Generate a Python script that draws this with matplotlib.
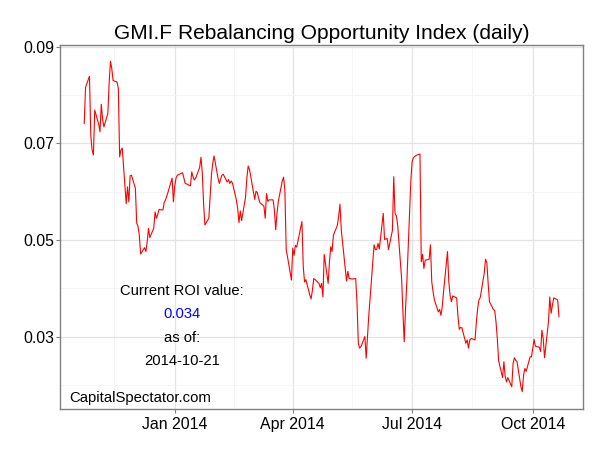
import numpy as np
import pandas as pd
import matplotlib
matplotlib.use("Agg")
import matplotlib.pyplot as plt

plt.rcParams['font.family'] = ['Liberation Sans', 'DejaVu Sans']

# daily index values, business days 2013-10-24 .. 2014-10-21 (one row per week)
startDate = "2013-10-24"
endDate = "2014-10-21"
roi = [
    0.0741, 0.0816,
    0.0839, 0.0716, 0.0686, 0.0676, 0.0769,
    0.0740, 0.0724, 0.0781, 0.0750, 0.0734,
    0.0762, 0.0825, 0.0870, 0.0855, 0.0830,
    0.0827, 0.0814, 0.0672, 0.0686, 0.0690,
    0.0575, 0.0610, 0.0579, 0.0633, 0.0634,
    0.0607, 0.0535, 0.0528, 0.0510, 0.0471,
    0.0484, 0.0476, 0.0496, 0.0524, 0.0505,
    0.0524, 0.0558, 0.0545, 0.0552, 0.0563,
    0.0562, 0.0578, 0.0583, 0.0591, 0.0600,
    0.0628, 0.0579, 0.0612, 0.0628, 0.0634,
    0.0638, 0.0639, 0.0628, 0.0617, 0.0616,
    0.0612, 0.0641, 0.0630, 0.0624, 0.0628,
    0.0650, 0.0671, 0.0640, 0.0576, 0.0531,
    0.0545, 0.0590, 0.0635, 0.0659, 0.0674,
    0.0628, 0.0617, 0.0626, 0.0634, 0.0636,
    0.0620, 0.0625, 0.0617, 0.0622, 0.0618,
    0.0583, 0.0565, 0.0536, 0.0560, 0.0540,
    0.0589, 0.0628, 0.0653, 0.0646, 0.0631,
    0.0584, 0.0601, 0.0598, 0.0586, 0.0577,
    0.0570, 0.0545, 0.0596, 0.0580, 0.0583,
    0.0583, 0.0562, 0.0521, 0.0555, 0.0580,
    0.0622, 0.0630, 0.0603, 0.0480, 0.0465,
    0.0417, 0.0483, 0.0468, 0.0489, 0.0485,
    0.0525, 0.0538, 0.0445, 0.0413, 0.0418,
    0.0386, 0.0378, 0.0396, 0.0420, 0.0418,
    0.0410, 0.0401, 0.0410, 0.0382, 0.0470,
    0.0410, 0.0455, 0.0486, 0.0476, 0.0510,
    0.0530, 0.0549, 0.0574, 0.0521, 0.0495,
    0.0415, 0.0435, 0.0420, 0.0420, 0.0419,
    0.0420, 0.0370, 0.0286, 0.0276, 0.0279,
    0.0300, 0.0255, 0.0300, 0.0345, 0.0380,
    0.0490, 0.0480, 0.0480, 0.0493, 0.0481,
    0.0555, 0.0501, 0.0502, 0.0503, 0.0480,
    0.0520, 0.0631, 0.0555, 0.0550, 0.0531,
    0.0420, 0.0351, 0.0289, 0.0358, 0.0413,
    0.0620, 0.0662, 0.0670, 0.0673, 0.0675,
    0.0678, 0.0455, 0.0470, 0.0441, 0.0458,
    0.0460, 0.0490, 0.0413, 0.0393, 0.0376,
    0.0351, 0.0356, 0.0344, 0.0362, 0.0393,
    0.0476, 0.0413, 0.0385, 0.0372, 0.0384,
    0.0380, 0.0341, 0.0315, 0.0319, 0.0318,
    0.0286, 0.0293, 0.0276, 0.0293, 0.0296,
    0.0293, 0.0330, 0.0358, 0.0376, 0.0381,
    0.0431, 0.0460, 0.0453, 0.0410, 0.0372,
    0.0356, 0.0354, 0.0330, 0.0295, 0.0250,
    0.0215, 0.0248, 0.0217, 0.0206, 0.0215,
    0.0196, 0.0244, 0.0256, 0.0251, 0.0248,
    0.0196, 0.0186, 0.0220, 0.0234, 0.0228,
    0.0258, 0.0258, 0.0275, 0.0294, 0.0280,
    0.0278, 0.0269, 0.0313, 0.0295, 0.0256,
    0.0331, 0.0382, 0.0348, 0.0365, 0.0380,
    0.0376, 0.0341,
]

# quarterly breaks; the outer two only serve to place the minor grid
breakDates = ["2013-10-01", "2014-01-01", "2014-04-01", "2014-07-01", "2014-10-01", "2015-01-01"]
majorLabels = ["Jan 2014", "Apr 2014", "Jul 2014", "Oct 2014"]
yTicks = [0.03, 0.05, 0.07, 0.09]
yMinor = [0.02, 0.04, 0.06, 0.08]
yLimits = (0.0150, 0.0903)

titleText = "GMI.F Rebalancing Opportunity Index (daily)"
currentValue = "0.034"
asOfDate = "2014-10-21"
sourceText = "CapitalSpectator.com"


def main():
    dates = pd.bdate_range(startDate, endDate)
    values = np.array(roi)

    fig = plt.figure(figsize=(5.99, 4.49), dpi=100)
    ax = fig.add_axes([0.1010, 0.0891, 0.8718, 0.8100])

    ax.plot(dates, values, color="#FF0000", linewidth=0.8)

    breaks = pd.to_datetime(breakDates)
    minors = breaks[:-1] + (breaks[1:] - breaks[:-1]) / 2
    ax.set_xticks(breaks[1:-1])
    ax.set_xticklabels(majorLabels)
    ax.set_xticks(minors, minor=True)
    ax.set_yticks(yTicks)
    ax.set_yticklabels([f"{t:.2f}" for t in yTicks])
    ax.set_yticks(yMinor, minor=True)

    # ggplot-like 5% expansion around the data
    span = dates[-1] - dates[0]
    ax.set_xlim(dates[0] - span * 0.05, dates[-1] + span * 0.05)
    ax.set_ylim(*yLimits)

    ax.grid(which="minor", color="#F4F4F4", linewidth=0.6)
    ax.grid(which="major", color="#E3E3E3", linewidth=0.9)
    ax.set_axisbelow(True)

    for s in ax.spines.values():
        s.set_color("#808080")
        s.set_linewidth(1.0)
    ax.tick_params(which="major", length=3.1, width=0.8, color="#808080",
                   labelsize=11.4, labelcolor="black")
    ax.tick_params(axis="y", pad=1.5)
    ax.tick_params(axis="x", pad=3.0)
    ax.tick_params(which="minor", length=0)

    fig.text(0.5369, 1 - 39.3 / 449, titleText, ha="center", va="baseline",
             fontsize=15.1, color="black")

    ax.text(0.2327, 0.3244, "Current ROI value:", transform=ax.transAxes,
            ha="center", va="center", fontsize=10.6)
    ax.text(0.2327, 0.2612, currentValue, transform=ax.transAxes,
            ha="center", va="center", fontsize=10.6, color="#0000FF")
    ax.text(0.2327, 0.1952, "as of:", transform=ax.transAxes,
            ha="center", va="center", fontsize=10.6)
    ax.text(0.2327, 0.1320, asOfDate, transform=ax.transAxes,
            ha="center", va="center", fontsize=10.6)
    ax.text(0.0163, 0.030, sourceText, transform=ax.transAxes,
            ha="left", va="center", fontsize=10.7)

    fig.savefig("out.png", dpi=100)
    plt.close(fig)


if __name__ == "__main__":
    main()
